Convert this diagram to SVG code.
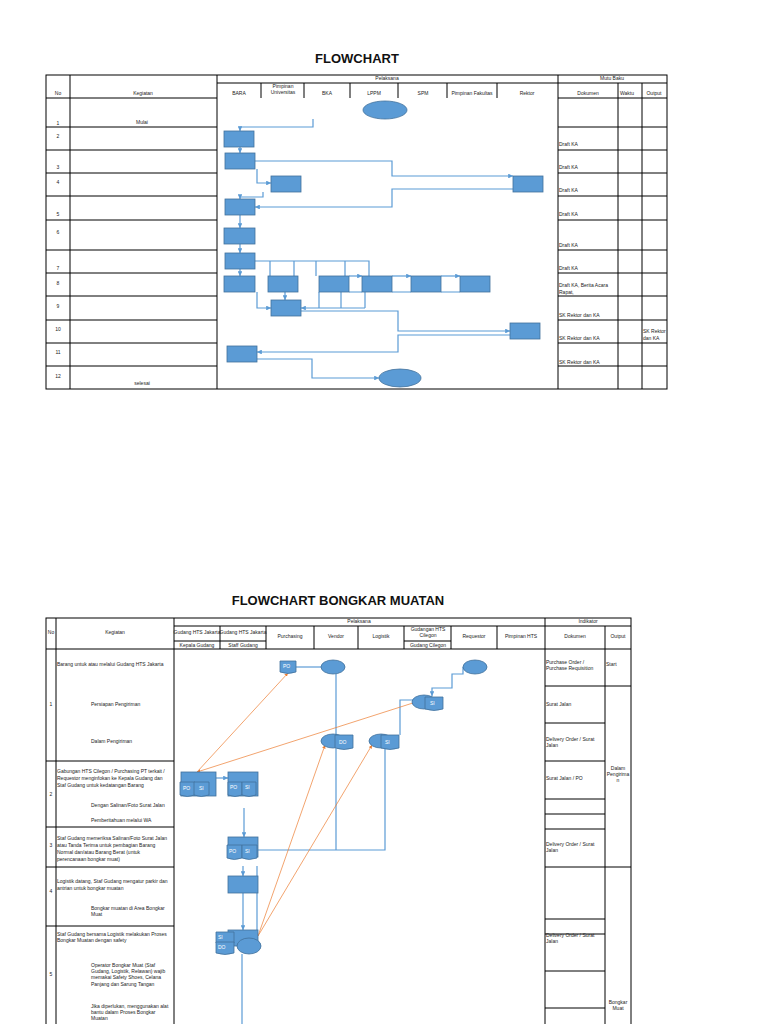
<svg xmlns="http://www.w3.org/2000/svg" width="768" height="1024" viewBox="0 0 768 1024">
<style>
.g{stroke:#000;stroke-width:1;fill:none}
.t{font-family:"Liberation Sans",Arial,sans-serif;font-size:5px;fill:#222}
.c{text-anchor:middle}
.h{font-family:"Liberation Sans",Arial,sans-serif;font-weight:bold;font-size:13px;fill:#111;text-anchor:middle}
.b{fill:#5b9bd5;stroke:#41719c;stroke-width:0.8}
.w{fill:#fff;stroke:#5b9bd5;stroke-width:0.8}
.l{stroke:#5b9bd5;stroke-width:1.2;fill:none}
.o{stroke:#ed7d31;stroke-width:0.7;fill:none}
.dt{font-family:"Liberation Sans",Arial,sans-serif;font-size:5px;fill:#fff}
</style>
<defs>
<marker id="a" viewBox="0 0 6 6" refX="6" refY="3" markerWidth="4" markerHeight="4" orient="auto"><path d="M0,0L6,3L0,6z" fill="#5b9bd5"/></marker>
<marker id="ao" viewBox="0 0 6 6" refX="6" refY="3" markerWidth="5" markerHeight="5" orient="auto"><path d="M0,0L6,3L0,6z" fill="#ed7d31"/></marker>
</defs>
<rect width="768" height="1024" fill="#fff"/>
<text class="h" x="357" y="63">FLOWCHART</text>
<g id="table1" class="g">
<rect x="46" y="75" width="621" height="314"/>
<path d="M70 75V389M217 75V389M558 75V389M618 83V389M642 83V389M217 83H667M261 83V98M304 83V98M350 83V98M398 83V98M447 83V98M497 83V98"/>
<path d="M46 98H217M558 98H667M46 127H217M558 127H667M46 150H217M558 150H667M46 173H217M558 173H667M46 196H217M558 196H667M46 220H217M558 220H667M46 250H217M558 250H667M46 273H217M558 273H667M46 296H217M558 296H667M46 320H217M558 320H667M46 343H217M558 343H667M46 366H217M558 366H667"/>
</g>
<g id="text1" class="t">
<text class="c" x="387" y="80">Pelaksana</text><text class="c" x="612" y="80">Mutu Baku</text>
<text class="c" x="58" y="95">No</text><text class="c" x="143" y="95">Kegiatan</text><text class="c" x="239" y="95">BARA</text>
<text class="c" x="283" y="88">Pimpinan</text><text class="c" x="283" y="94">Universitas</text>
<text class="c" x="327" y="95">BKA</text><text class="c" x="374" y="95">LPPM</text><text class="c" x="423" y="95">SPM</text>
<text class="c" x="472" y="95">Pimpinan Fakultas</text><text class="c" x="527" y="95">Rektor</text>
<text class="c" x="588" y="95">Dokumen</text><text class="c" x="627" y="95">Waktu</text><text class="c" x="654" y="95">Output</text>
<text class="c" x="58" y="125">1</text><text class="c" x="58" y="138">2</text><text class="c" x="58" y="169">3</text><text class="c" x="58" y="184">4</text><text class="c" x="58" y="216">5</text><text class="c" x="58" y="234">6</text><text class="c" x="58" y="270">7</text><text class="c" x="58" y="285">8</text><text class="c" x="58" y="308">9</text><text class="c" x="58" y="331">10</text><text class="c" x="58" y="354">11</text><text class="c" x="58" y="378">12</text>
<text class="c" x="142" y="124">Mulai</text><text class="c" x="142" y="385">selesai</text>
<text x="559" y="146">Draft KA</text><text x="559" y="169">Draft KA</text><text x="559" y="192">Draft KA</text><text x="559" y="216">Draft KA</text><text x="559" y="247">Draft KA</text><text x="559" y="270">Draft KA</text>
<text x="559" y="287">Draft KA, Berita Acara</text><text x="559" y="294">Rapat,</text>
<text x="559" y="317">SK Rektor dan KA</text><text x="559" y="340">SK Rektor dan KA</text><text x="559" y="364">SK Rektor dan KA</text>
<text x="643" y="333">SK Rektor</text><text x="643" y="340">dan KA</text>
</g>
<g id="connectors1">
<path class="l" marker-end="url(#a)" d="M313 119V127H240V131"/>
<path class="l" marker-end="url(#a)" d="M240 147V153"/>
<path class="l" marker-end="url(#a)" d="M255 161H392V176H513"/>
<path class="l" marker-end="url(#a)" d="M257 169V183H271"/>
<path class="l" marker-end="url(#a)" d="M263 192V197H240V199"/>
<path class="l" marker-end="url(#a)" d="M513 189H392V207H255"/>
<path class="l" marker-end="url(#a)" d="M240 215V228"/>
<path class="l" marker-end="url(#a)" d="M240 244V253"/>
<path class="l" marker-end="url(#a)" d="M240 269V276"/>
<path class="l" d="M255 261H369V276M270 261V276M294 261V276M316 261V276M345 261V276"/>
<path class="l" marker-end="url(#a)" d="M349 276H362"/><path class="l" marker-end="url(#a)" d="M392 276H411"/><path class="l" marker-end="url(#a)" d="M441 276H460"/>
<path class="l" d="M349 292H362M392 292H411M441 292H460M319 292V308M341 292V308M365 292V308"/>
<path class="l" marker-end="url(#a)" d="M365 308H301"/>
<path class="l" marker-end="url(#a)" d="M257 292V308H271"/>
<path class="l" marker-end="url(#a)" d="M285 292V300"/>
<path class="l" marker-end="url(#a)" d="M301 311H398V331H510"/>
<path class="l" marker-end="url(#a)" d="M510 335H398V352H257"/>
<path class="l" marker-end="url(#a)" d="M257 359H312V378H379"/>
</g>
<g id="nodes1">
<ellipse class="b" cx="385" cy="110" rx="22" ry="9"/>
<rect class="b" x="224" y="131" width="30" height="16"/><rect class="b" x="225" y="153" width="30" height="16"/>
<rect class="b" x="271" y="176" width="30" height="16"/><rect class="b" x="513" y="176" width="30" height="16"/>
<rect class="b" x="225" y="199" width="30" height="16"/><rect class="b" x="224" y="228" width="31" height="16"/>
<rect class="b" x="225" y="253" width="30" height="16"/>
<rect class="b" x="224" y="276" width="31" height="16"/><rect class="b" x="268" y="276" width="30" height="16"/><rect class="b" x="319" y="276" width="30" height="16"/><rect class="b" x="362" y="276" width="30" height="16"/><rect class="b" x="411" y="276" width="30" height="16"/><rect class="b" x="460" y="276" width="30" height="16"/>
<rect class="b" x="271" y="300" width="30" height="16"/><rect class="b" x="510" y="323" width="30" height="16"/>
<rect class="b" x="227" y="346" width="30" height="16"/>
<ellipse class="b" cx="400" cy="378" rx="21" ry="9"/>
</g>
<text class="h" x="338" y="605">FLOWCHART BONGKAR MUATAN</text>
<g id="table2" class="g">
<rect x="46" y="618" width="585" height="420"/>
<path d="M56 618V1038M174 618V1038M545 618V1038M605 626V1038M174 626H631M220 626V649M266 626V649M314 626V649M358 626V649M404 626V649M451 626V649M497 626V649M174 641H266M404 641H451"/>
<path d="M46 649H631M46 761H174M46 827H174M46 867H174M46 926H174"/>
<path d="M545 686H631M545 723H605M545 761H605M545 799H605M545 814H605M545 829H605M545 867H631M545 919H605M545 934H605M545 971H605M545 1008H605"/>
</g>
<g id="text2" class="t">
<text class="c" x="359" y="623">Pelaksana</text><text class="c" x="588" y="623">Indikator</text>
<text class="c" x="51" y="634">No</text><text class="c" x="115" y="634">Kegiatan</text>
<text class="c" x="197" y="634">Gudang HTS Jakarta</text><text class="c" x="243" y="634">Gudang HTS Jakarta</text>
<text class="c" x="197" y="647">Kepala Gudang</text><text class="c" x="243" y="647">Staff Gudang</text>
<text class="c" x="290" y="638">Purchasing</text><text class="c" x="336" y="638">Vendor</text><text class="c" x="381" y="638">Logistik</text>
<text class="c" x="428" y="631">Gudangan HTS</text><text class="c" x="428" y="637">Cilegon</text><text class="c" x="428" y="647">Gudang Cilegon</text>
<text class="c" x="474" y="638">Requestor</text><text class="c" x="521" y="638">Pimpinan HTS</text>
<text class="c" x="575" y="638">Dokumen</text><text class="c" x="618" y="638">Output</text>
<text class="c" x="51" y="706">1</text><text class="c" x="51" y="796">2</text><text class="c" x="51" y="847">3</text><text class="c" x="51" y="893">4</text><text class="c" x="51" y="976">5</text>
<text x="57" y="666">Barang untuk atau melalui Gudang HTS Jakarta</text>
<text x="91" y="706">Persiapan Pengiriman</text><text x="91" y="743">Dalam Pengiriman</text>
<text x="57" y="773">Gabungan HTS Cilegon / Purchasing PT terkait /</text><text x="57" y="780">Requestor menginfokan ke Kepala Gudang dan</text><text x="57" y="787">Staf Gudang untuk kedatangan Barang</text>
<text x="91" y="807">Dengan Salinan/Foto Surat Jalan</text><text x="91" y="822">Pemberitahuan melalui WA</text>
<text x="57" y="840">Staf Gudang memeriksa Salinan/Foto Surat Jalan</text><text x="57" y="847">atau Tanda Terima untuk pembagian Barang</text><text x="57" y="854">Normal dan/atau Barang Berat (untuk</text><text x="57" y="861">perencanaan bongkar muat)</text>
<text x="57" y="883">Logistik datang, Staf Gudang mengatur parkir dan</text><text x="57" y="890">antrian untuk bongkar muatan</text>
<text x="91" y="910">Bongkar muatan di Area Bongkar</text><text x="91" y="916">Muat</text>
<text x="57" y="936">Staf Gudang bersama Logistik melakukan Proses</text><text x="57" y="942">Bongkar Muatan dengan safety</text>
<text x="91" y="967">Operator Bongkar Muat (Staf</text><text x="91" y="973">Gudang, Logistik, Relawan) wajib</text><text x="91" y="979">memakai Safety Shoes, Celana</text><text x="91" y="986">Panjang dan Sarung Tangan</text>
<text x="91" y="1008">Jika diperlukan, menggunakan alat</text><text x="91" y="1014">bantu dalam Proses Bongkar</text><text x="91" y="1020">Muatan</text>
<text x="546" y="664">Purchase Order /</text><text x="546" y="670">Purchase Requisition</text>
<text x="546" y="706">Surat Jalan</text>
<text x="546" y="741">Delivery Order / Surat</text><text x="546" y="747">Jalan</text>
<text x="546" y="780">Surat Jalan / PO</text>
<text x="546" y="846">Delivery Order / Surat</text><text x="546" y="852">Jalan</text>
<text x="546" y="937">Delivery Order / Surat</text><text x="546" y="943">Jalan</text>
<text x="606" y="666">Start</text>
<text class="c" x="618" y="770">Dalam</text><text class="c" x="618" y="776">Pengirima</text><text class="c" x="618" y="782">n</text>
<text class="c" x="618" y="1004">Bongkar</text><text class="c" x="618" y="1010">Muat</text>
</g>
<g id="connectors2">
<path class="l" d="M296 667H321"/>
<path class="l" d="M336 674V735"/>
<path class="l" marker-end="url(#a)" d="M463 667V674H452V688H432V696"/>
<path class="l" d="M417 700H400V735"/>
<path class="l" marker-end="url(#a)" d="M216 778H228"/>
<path class="l" marker-end="url(#a)" d="M244 808V837"/>
<path class="l" d="M336 749V850H258M385 749V850H336"/>
<path class="l" marker-end="url(#a)" d="M243 866V876"/>
<path class="l" marker-end="url(#a)" d="M243 893V930"/>
<path class="l" d="M257 866V930"/>
<path class="l" d="M242 954V1024"/>
<path class="o" marker-end="url(#ao)" d="M197 772L288 673"/>
<path class="o" marker-end="url(#ao)" d="M416 702L197 772"/>
<path class="o" marker-end="url(#ao)" d="M258 936L325 745"/>
<path class="o" marker-end="url(#ao)" d="M258 936L372 745"/>
</g>
<g id="nodes2">
<path class="b" d="M280 661h16v11q-8 3-16 0z"/><text class="dt" x="283" y="668">PO</text>
<ellipse class="b" cx="333" cy="667" rx="12" ry="7"/>
<ellipse class="b" cx="475" cy="667" rx="12" ry="7"/>
<ellipse class="b" cx="424" cy="702" rx="12" ry="7"/><path class="b" d="M425 697h18v12q-9 3-18 0z"/><text class="dt" x="430" y="705">SI</text>
<ellipse class="b" cx="333" cy="741" rx="12" ry="7"/><path class="b" d="M335 735h18v13q-9 3-18 0z"/><text class="dt" x="339" y="744">DO</text>
<ellipse class="b" cx="381" cy="741" rx="12" ry="7"/><path class="b" d="M381 735h18v13q-9 3-18 0z"/><text class="dt" x="385" y="744">SI</text>
<rect class="b" x="181" y="772" width="35" height="24"/><path class="b" d="M180 782h15v13q-8 3-15 0z"/><path class="b" d="M194 782h15v13q-8 3-15 0z"/><text class="dt" x="183" y="790">PO</text><text class="dt" x="199" y="790">SI</text>
<rect class="b" x="228" y="772" width="30" height="24"/><path class="b" d="M228 782h14v13q-7 3-14 0z"/><path class="b" d="M242 782h14v13q-7 3-14 0z"/><text class="dt" x="230" y="789">PO</text><text class="dt" x="245" y="789">SI</text>
<rect class="b" x="228" y="837" width="30" height="20"/><path class="b" d="M227 845h15v13q-8 3-15 0z"/><path class="b" d="M242 845h15v13q-8 3-15 0z"/><text class="dt" x="229" y="853">PO</text><text class="dt" x="245" y="853">SI</text>
<rect class="b" x="228" y="876" width="30" height="17"/>
<rect class="b" x="228" y="930" width="30" height="16"/>
<path class="b" d="M216 932h18v11h-18z"/><text class="dt" x="218" y="939">SI</text>
<path class="b" d="M216 942h18v11q-9 3-18 0z"/><text class="dt" x="218" y="949">DO</text>
<ellipse class="b" cx="249" cy="946" rx="12" ry="8"/>
</g>
</svg>
